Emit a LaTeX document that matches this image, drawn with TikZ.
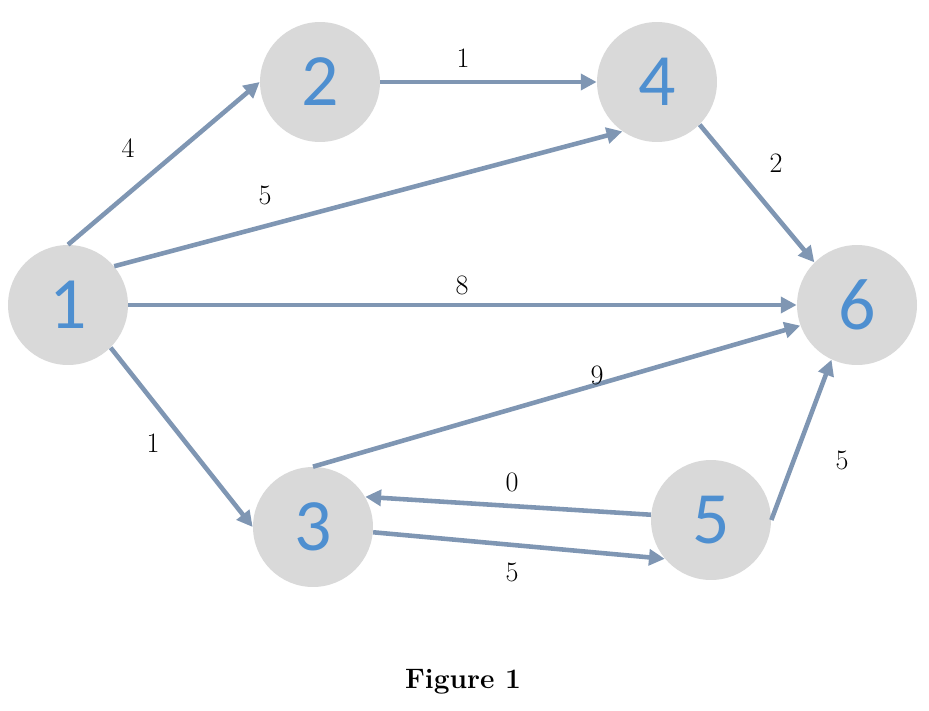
\documentclass[tikz,border=0pt]{standalone}
\usepackage{fontspec}
\newfontfamily\carl{Carlito}
\usetikzlibrary{arrows.meta}
\definecolor{edge}{HTML}{7F96B3}
\definecolor{nfill}{HTML}{D9D9D9}
\definecolor{ntext}{HTML}{4E8FD0}
\begin{document}
\begin{tikzpicture}[x=0.02cm,y=-0.02cm,
  v/.style={circle,fill=nfill,minimum size=2.4cm,inner sep=0,text=ntext,font=\carl\fontsize{42}{42}\selectfont},
  e/.style={draw=edge,line width=2.6pt,-{Triangle[length=9pt,width=9pt]}},
  lab/.style={font=\fontsize{16}{16}\selectfont}]
\useasboundingbox (0,0) rectangle (929,710);
\node[v] (1) at (68,305) {1};
\node[v] (2) at (320,82) {2};
\node[v] (4) at (657,82) {4};
\node[v] (6) at (857,305) {6};
\node[v] (3) at (313,527) {3};
\node[v] (5) at (711,520) {5};
\draw[e] (1.north) -- (2.west);
\draw[e] (1.40) -- (4.235);
\draw[e] (1.east) -- (6.west);
\draw[e] (1.-45) -- (3.west);
\draw[e] (2.east) -- (4.west);
\draw[e] (4.-45) -- (6.135);
\draw[e] (3.north) -- (6.200);
\draw[e] (3.-5) -- (5.220);
\draw[e] (5.175) -- (3.30);
\draw[e] (5.east) -- (6.245);
\node[lab] (l12) at (128,148) {4};
\node[lab] (l14) at (265,195) {5};
\node[lab] (l16) at (462,285) {8};
\node[lab] (l13) at (153,443) {1};
\node[lab] (l24) at (463,58) {1};
\node[lab] (l46) at (776,163) {2};
\node[lab] (l36) at (597,375) {9};
\node[lab] (l53) at (512,482) {0};
\node[lab] (l35) at (512,572) {5};
\node[lab] (l56) at (842,460) {5};
\node[font=\bfseries\fontsize{16}{16}\selectfont] (cap) at (463,682) {Figure 1};
\end{tikzpicture}
\end{document}
